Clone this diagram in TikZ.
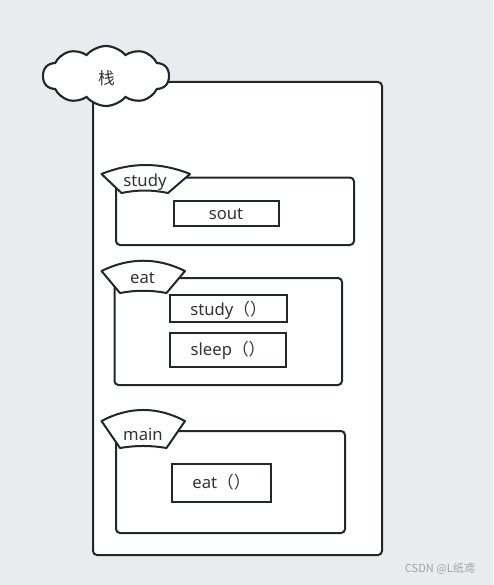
\documentclass[tikz,border=0pt]{standalone}
\usepackage{fontspec}
\setmainfont{Noto Sans}
\newfontfamily\cjk{Noto Sans CJK SC}
\usetikzlibrary{shapes.symbols}
\definecolor{bg}{HTML}{E9EBEE}
\definecolor{ln}{HTML}{22272E}
\definecolor{tx}{HTML}{333333}
\definecolor{wm}{HTML}{A2A4A8}
\begin{document}
\begin{tikzpicture}[x=0.75pt,y=-0.75pt,
  outer/.style={draw=ln,line width=1.5pt,fill=white,rounded corners=3pt,inner sep=0pt},
  inner/.style={draw=ln,line width=1.8pt,fill=white,inner sep=0pt},
  fan/.style={draw=ln,line width=1.5pt,fill=white,line join=round},
  lbl/.style={text=tx,font=\fontsize{12.5pt}{14pt}\selectfont,inner sep=0pt,anchor=base},
  every node/.style={inner sep=0pt}]
\fill[bg] (0,0) rectangle (493,585);
\useasboundingbox (0,0) rectangle (493,585);
% stack frame
\node[outer,minimum width=289*0.75pt,minimum height=473*0.75pt] (stack) at (237.5,318.5) {};
\node[cloud,cloud puffs=10,cloud puff arc=100,cloud ignores aspect,draw=ln,line width=1.6pt,fill=white,
  minimum width=126*0.75pt,minimum height=60*0.75pt] (cloudn) at (106,76) {};
\node[lbl,anchor=center] (zhan) at (106.5,78.5) {\cjk 栈};
% study frame
\node[outer,minimum width=238*0.75pt,minimum height=67.5*0.75pt] (studybox) at (235,211.25) {};
\draw[fan] (101.5,174) .. controls (131,162) and (160.5,162) .. (190,174) -- (168,193)
  .. controls (152.5,189.7) and (137,189.7) .. (121.5,193) -- cycle;
\node[lbl] (studylbl) at (145,186.5) {study};
\node[inner,minimum width=105*0.75pt,minimum height=25*0.75pt] (sout) at (226.5,213.5) {};
\node[lbl] (soutlbl) at (226,219.5) {sout};
% eat frame
\node[outer,minimum width=227.5*0.75pt,minimum height=107*0.75pt] (eatbox) at (228.25,331.5) {};
\draw[fan] (101.5,271) .. controls (129.3,257.3) and (157.2,257.3) .. (185,271) -- (166.5,293)
  .. controls (151,290) and (135.5,290) .. (120,293) -- cycle;
\node[lbl] (eatlbl) at (142.5,283) {eat};
\node[inner,minimum width=117*0.75pt,minimum height=27*0.75pt] (studycall) at (228.5,308.5) {};
\node[lbl] (studycalllbl) at (228.5,315) {study\cjk （）};
\node[inner,minimum width=116*0.75pt,minimum height=33.5*0.75pt] (sleepcall) at (228,350) {};
\node[lbl] (sleepcalllbl) at (228,355) {sleep\cjk （）};
% main frame
\node[outer,minimum width=229*0.75pt,minimum height=102*0.75pt] (mainbox) at (230.5,482) {};
\draw[fan] (101.5,421) .. controls (129.3,406.3) and (157.2,406.3) .. (185,421) -- (166.5,448)
  .. controls (151,445.3) and (135.5,445.3) .. (120,448) -- cycle;
\node[lbl] (mainlbl) at (143,440) {main};
\node[inner,minimum width=99*0.75pt,minimum height=38*0.75pt] (eatcall) at (221.5,483) {};
\node[lbl] (eatcalllbl) at (221.5,488.3) {eat\cjk （）};
% watermark
\node[text=wm,font=\cjk\fontsize{8.3pt}{10pt}\selectfont] (wmark) at (440,569) {CSDN @L纸鸢};
\end{tikzpicture}
\end{document}
